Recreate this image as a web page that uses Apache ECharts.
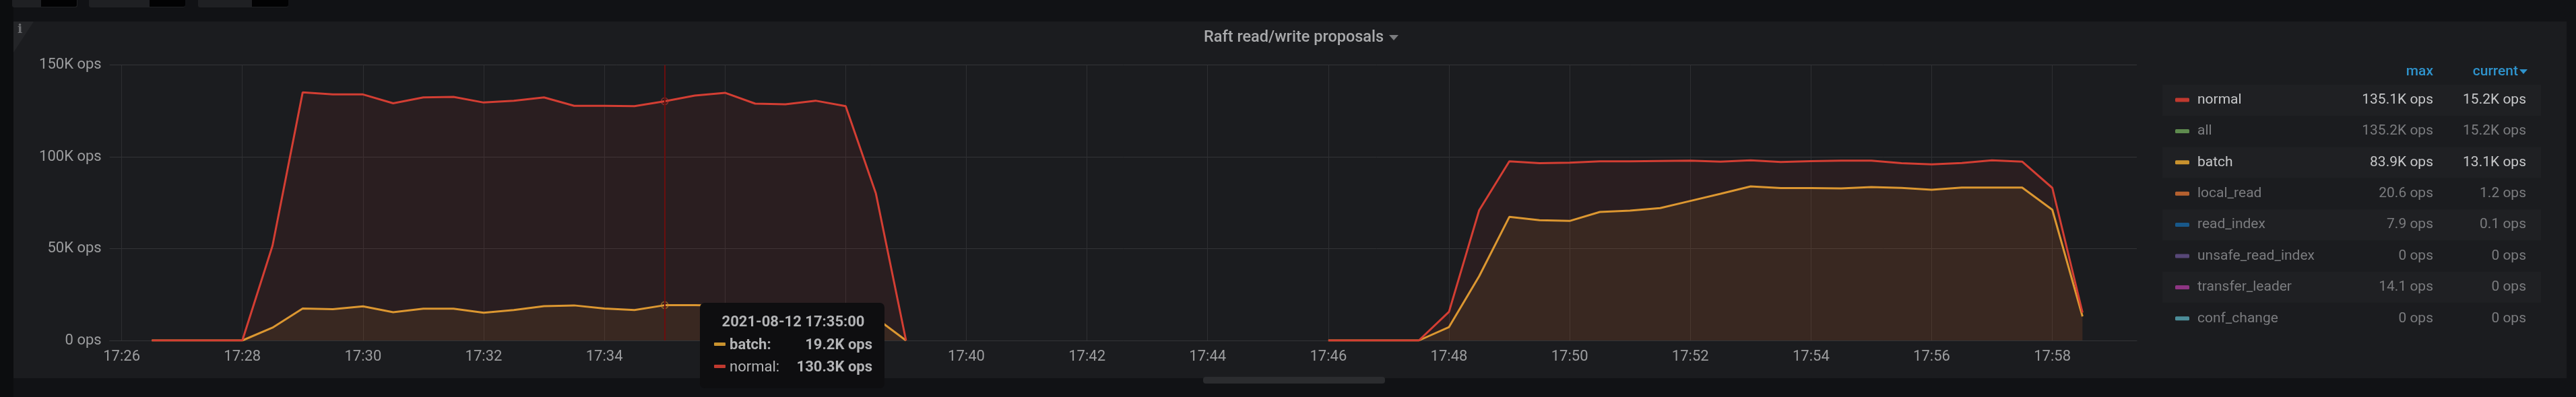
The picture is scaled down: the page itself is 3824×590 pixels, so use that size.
<!DOCTYPE html>
<html><head><meta charset="utf-8">
<script src="https://cdn.jsdelivr.net/npm/echarts@6/dist/echarts.min.js"></script>
<style>html,body{margin:0;padding:0;background:#111215;width:3824px;height:590px;overflow:hidden}#c{width:3824px;height:590px}</style>
</head><body><div id="c"></div><script>
// ---- data ----
const times = ['17:26:30','17:27:00','17:27:30','17:28:00','17:28:30','17:29:00','17:29:30','17:30:00','17:30:30','17:31:00',
  '17:31:30','17:32:00','17:32:30','17:33:00','17:33:30','17:34:00','17:34:30','17:35:00','17:35:30','17:36:00',
  '17:36:30','17:37:00','17:37:30','17:38:00','17:38:30','17:39:00','17:39:30','17:40:00','17:40:30','17:41:00',
  '17:41:30','17:42:00','17:42:30','17:43:00','17:43:30','17:44:00','17:44:30','17:45:00','17:45:30','17:46:00',
  '17:46:30','17:47:00','17:47:30','17:48:00','17:48:30','17:49:00','17:49:30','17:50:00','17:50:30','17:51:00',
  '17:51:30','17:52:00','17:52:30','17:53:00','17:53:30','17:54:00','17:54:30','17:55:00','17:55:30','17:56:00',
  '17:56:30','17:57:00','17:57:30','17:58:00','17:58:30'];
// values in K ops
const normalK = [0,0,0,0,51.6,135.1,134.0,134.0,129.2,132.4,
  132.7,129.6,130.6,132.4,127.8,127.8,127.6,130.3,133.4,134.9,
  129.0,128.6,130.6,127.6,80.2,0,null,null,null,null,
  null,null,null,null,null,null,null,null,null,0,
  0,0,0,15.6,70.9,97.6,96.6,96.8,97.6,97.6,
  97.8,97.9,97.4,98.1,97.2,97.7,97.9,97.9,96.6,95.9,
  96.7,98.1,97.4,83.1,15.2];
const batchK = [0,0,0,0,7.0,17.4,17.0,18.6,15.4,17.3,
  17.3,15.1,16.6,18.7,19.1,17.4,16.6,19.2,19.2,19.0,
  17.8,17.4,18.3,17.6,12.3,0,null,null,null,null,
  null,null,null,null,null,null,null,null,null,0,
  0,0,0,7.3,35.0,67.3,65.5,65.1,70.0,70.7,
  72.1,76.0,79.9,83.9,83.0,83.0,82.8,83.6,83.1,82.1,
  83.3,83.3,83.3,71.2,13.1];
const seriesNames = ['normal','all','batch','local_read','read_index','unsafe_read_index','transfer_leader','conf_change'];
const seriesColors = ['#c0392f','#5e8a4e','#c9922e','#b5602f','#18588a','#574777','#8e3583','#4c8d99'];
const seriesShown = [true,false,true,false,false,false,false,false];
const legendMax = [135100,135200,83900,20.6,7.9,0,14.1,0];        // ops
const legendCurrent = [15200,15200,13100,1.2,0.1,0,0,0];         // ops
const legendHeaders = ['max','current'];
const yTicksK = [0,50,100,150];
const chartTitle = 'Raft read/write proposals';
const hoverTime = '17:35:00';

// ---- helpers ----
function toDate(t){const p=t.split(':').map(Number);return new Date(2021,7,12,p[0],p[1],p[2]).getTime();}
function fmtOps(v){ if(v>=1000) return (v/1000).toFixed(1)+'K ops'; return v+' ops'; }
function fmtK(v){ return v===0 ? '0 ops' : (v.toFixed(1).replace(/\.0$/,''))+'K ops'; }
function pairs(arr){ return times.map((t,i)=>[toDate(t), arr[i]]); }

const FONT = 'Roboto, "Helvetica Neue", Arial, sans-serif';
const chart = echarts.init(document.getElementById('c'), null, {renderer:'canvas'});

const dataMap = {normal: normalK, batch: batchK};
// batch first so the normal line is drawn on top
const drawOrder = ['batch','normal','all','local_read','read_index','unsafe_read_index','transfer_leader','conf_change'];
const series = drawOrder.map(name=>{
  const i = seriesNames.indexOf(name);
  const c = seriesColors[i];
  const d = dataMap[name];
  return {
    name, type:'line', color:c,
    data: d ? pairs(d) : [],
    showSymbol:false, symbol:'circle', symbolSize:10,
    connectNulls:false,
    lineStyle:{width:3, color:c},
    areaStyle: d ? {color:c, opacity:0.085} : undefined,
    emphasis:{disabled:false, scale:false, focus:'none',
      itemStyle:{color:'rgba(0,0,0,0)', borderColor:c, borderWidth:2, opacity:0.55},
      lineStyle:{width:3}, areaStyle:{opacity:0.085}},
    z: name==='normal'?3:2
  };
});

const rowCenters = [150,196.3,242.6,288.9,335.2,381.5,427.8,474.1];
const stripeRows = [0,2,4,6];

const graphics = [
  {type:'rect', shape:{x:20,y:32,width:3790,height:530}, style:{fill:'#1b1c1f'}, z:-100, silent:true},
  {type:'rect', shape:{x:0,y:0,width:20,height:590}, style:{fill:'#0c0d0f'}, z:-100, silent:true},
  {type:'rect', shape:{x:18,y:-6,width:97,height:17,r:3}, style:{fill:'#1f2023'}, z:-100, silent:true},
  {type:'rect', shape:{x:61,y:-6,width:53,height:16,r:[0,0,3,0]}, style:{fill:'#020203'}, z:-99, silent:true},
  {type:'rect', shape:{x:132,y:-6,width:143,height:17,r:3}, style:{fill:'#1f2023'}, z:-100, silent:true},
  {type:'rect', shape:{x:222,y:-6,width:53,height:16,r:[0,0,3,0]}, style:{fill:'#020203'}, z:-99, silent:true},
  {type:'rect', shape:{x:294,y:-6,width:134,height:17,r:3}, style:{fill:'#1f2023'}, z:-100, silent:true},
  {type:'rect', shape:{x:374,y:-6,width:54,height:16,r:[0,0,3,0]}, style:{fill:'#020203'}, z:-99, silent:true},
  {type:'polygon', shape:{points:[[20,32],[50,32],[20,78]]}, style:{fill:'#242528'}, z:-99, silent:true},
  {type:'text', x:29.5, y:44, style:{text:'i', fill:'#6d6e71', font:'bold 19px "DejaVu Serif", serif', align:'center', verticalAlign:'middle'}, z:10, silent:true},
  {type:'rect', shape:{x:1786,y:560,width:270,height:10,r:4}, style:{fill:'#2b2c2f'}, z:-98, silent:true},
  {type:'text', x:3612, y:107, style:{text:legendHeaders[0], fill:'#2f93cc', font:'500 21px '+FONT, align:'right', verticalAlign:'middle'}, z:10, silent:true},
  {type:'text', x:3738, y:107, style:{text:legendHeaders[1], fill:'#2f93cc', font:'500 21px '+FONT, align:'right', verticalAlign:'middle'}, z:10, silent:true},
  {type:'polygon', shape:{points:[[3740,103],[3752,103],[3746,110]]}, style:{fill:'#2f93cc'}, z:10, silent:true},
  {type:'polygon', shape:{points:[[2062,52],[2076,52],[2069,60]]}, style:{fill:'#7a7b7e'}, z:10, silent:true}
].concat(stripeRows.map(r=>({type:'rect', shape:{x:3210,y:rowCenters[r]-24,width:562,height:46}, style:{fill:'#1f2023'}, z:-97, silent:true})));

chart.setOption({
  animation:false,
  backgroundColor:'#111215',
  textStyle:{fontFamily:FONT},
  title:{
    text:chartTitle, left:1782, top:37,
    textStyle:{fontSize:23.5, fontWeight:500, color:'#a9aaac', fontFamily:FONT, lineHeight:28}
  },
  grid:{left:162.7, right:652, top:96.7, bottom:84, outerBoundsMode:'none', containLabel:false},
  xAxis:{
    type:'time',
    min: toDate('17:25:48'), max: toDate('17:59:24'),
    minInterval:150000, maxInterval:150000,
    axisLine:{show:true, lineStyle:{color:'#333437', width:1}},
    axisTick:{show:false},
    splitLine:{show:true, showMinLine:false, showMaxLine:false, lineStyle:{color:'#2e2f32', width:1}},
    axisLabel:{color:'#9c9d9f', fontSize:22, fontFamily:FONT, margin:13, lineHeight:22,
      showMinLabel:false, showMaxLabel:false,
      formatter:(v)=>echarts.time.format(v,'{HH}:{mm}',false)}
  },
  yAxis:{
    type:'value', min:yTicksK[0], max:yTicksK[yTicksK.length-1], interval:yTicksK[1]-yTicksK[0],
    axisLine:{show:false}, axisTick:{show:false},
    splitLine:{show:true, lineStyle:{color:'#333437', width:1}},
    axisLabel:{color:'#9c9d9f', fontSize:22, fontFamily:FONT, margin:12, formatter:fmtK}
  },
  legend:{
    orient:'vertical', left:3229, top:rowCenters[0]-12, padding:0,
    itemWidth:21, itemHeight:6, itemGap:25.4, icon:'roundRect',
    selectedMode:false,
    data: seriesNames.map((n,i)=>({name:n, textStyle:{color: seriesShown[i] ? '#c6c7c9' : '#7b7c7f'}})),
    formatter:(name)=>{
      const i = seriesNames.indexOf(name);
      return '{s| }{n|'+name+'}{m|'+fmtOps(legendMax[i])+'}{c|'+fmtOps(legendCurrent[i])+'}';
    },
    textStyle:{fontSize:21, fontFamily:FONT, rich:{
      s:{width:7, fontSize:21, lineHeight:24},
      n:{width:200, fontSize:21, lineHeight:24},
      m:{width:150, align:'right', fontSize:21, lineHeight:24},
      c:{width:138, align:'right', fontSize:21, lineHeight:24}
    }}
  },
  tooltip:{
    trigger:'axis', triggerOn:'none', alwaysShowContent:true, transitionDuration:0,
    position:[1039,450], confine:false,
    backgroundColor:'#0e0e10', borderWidth:0, padding:0,
    extraCssText:'border-radius:7px;box-shadow:none;width:274px;height:127px;box-sizing:border-box;',
    axisPointer:{type:'line', snap:true, lineStyle:{color:'#6a0e0e', width:2, type:'solid'}, label:{show:false}},
    formatter:(params)=>{
      const ps = params.filter(p=>p.value && p.value[1]!=null);
      const t = echarts.time.format(ps[0].value[0],'{yyyy}-{MM}-{dd} {HH}:{mm}:{ss}',false);
      let h = '<div style="font-family:'+FONT.replace(/"/g,"'")+';color:#b3b4b6;padding:10px 18px 0 21px;">';
      h += '<div style="text-align:center;font-weight:700;font-size:22px;height:35px;line-height:35px;">'+t+'</div>';
      ps.forEach((p,k)=>{
        h += '<div style="display:flex;align-items:center;height:33px;font-size:22px;">'+
          '<span style="display:inline-block;width:17px;height:5px;border-radius:1px;background:'+p.color+';margin-right:6px;"></span>'+
          '<span style="font-weight:'+(k===0?700:400)+'">'+p.seriesName+':</span>'+
          '<span style="margin-left:auto;font-weight:700;">'+fmtK(p.value[1])+'</span></div>';
      });
      return h+'</div>';
    }
  },
  graphic:{elements:graphics},
  series
});

chart.dispatchAction({type:'showTip', seriesIndex:0, dataIndex: times.indexOf(hoverTime)});
</script></body></html>
